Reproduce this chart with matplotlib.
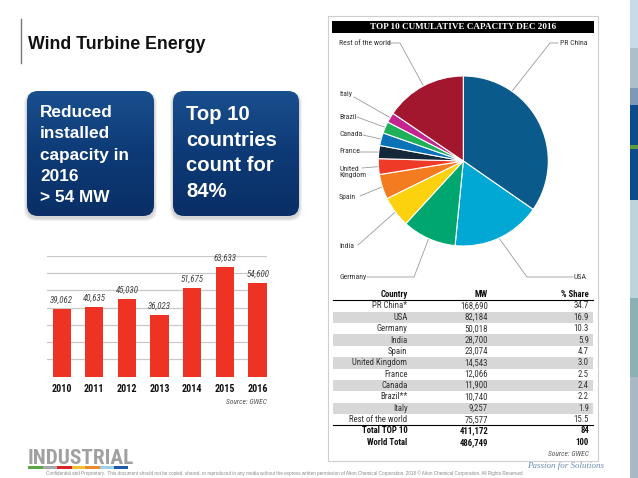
import numpy as np
import matplotlib
matplotlib.use("Agg")
import matplotlib.pyplot as plt
from matplotlib.patches import FancyBboxPatch, Rectangle
from matplotlib.colors import LinearSegmentedColormap

# ---------------- data ----------------
years = ["2010", "2011", "2012", "2013", "2014", "2015", "2016"]
installed_mw = [39062, 40635, 45030, 36023, 51675, 63633, 54600]

pie_countries = ["PR China", "USA", "Germany", "India", "Spain", "United\nKingdom",
                 "France", "Canada", "Brazil", "Italy", "Rest of the world"]
pie_mw = [168690, 82184, 50018, 28700, 23074, 14543, 12066, 11900, 10740, 9257, 75577]
pie_colors = ["#0b5a8c", "#00a8d3", "#00a66f", "#fcd20f", "#f47c20", "#ee3a26",
              "#14283a", "#0a72b8", "#1eb15a", "#c3268e", "#a3172e"]

table_country = ["PR China*", "USA", "Germany", "India", "Spain", "United Kingdom",
                 "France", "Canada", "Brazil**", "Italy", "Rest of the world"]
table_mw = ["168,690", "82,184", "50,018", "28,700", "23,074", "14,543",
            "12,066", "11,900", "10,740", "9,257", "75,577"]
table_share = ["34.7", "16.9", "10.3", "5.9", "4.7", "3.0", "2.5", "2.4", "2.2", "1.9", "15.5"]
total_rows = [("Total TOP 10", "411,172", "84"), ("World Total", "486,749", "100")]

W, H = 638, 478
fig = plt.figure(figsize=(W / 100, H / 100), dpi=100)
fig.patch.set_facecolor("white")

NARROW = ["Roboto Condensed", "Liberation Sans Narrow", "Open Sans Condensed", "Roboto"]
NS = "condensed"
SANS = ["Liberation Sans", "DejaVu Sans"]


def frac(x0, y0, x1, y1):
    return [x0 / W, 1 - y1 / H, (x1 - x0) / W, (y1 - y0) / H]


bg = fig.add_axes([0, 0, 1, 1])
bg.set_xlim(0, W)
bg.set_ylim(H, 0)
bg.axis("off")
bg.set_zorder(0)

# ---------------- right-edge colour strip ----------------
strip = [(0, 48, "#c7dbea"), (48, 88, "#aebfcc"), (88, 105, "#7e99b8"),
         (105, 200, "#0c4c8d"), (200, 298, "#bdd4dc"), (298, 377, "#8cb1b4"),
         (377, 478, "#aab8c6")]
for y0, y1, c in strip:
    bg.add_patch(Rectangle((629.5, y0), 9, y1 - y0, color=c, lw=0))
bg.add_patch(Rectangle((629.5, 145), 9, 4, color="#5c9c3c", lw=0))

# ---------------- title ----------------
bg.plot([21, 21], [19, 63], color="#777777", lw=1.0)
bg.text(28, 48.5, "Wind Turbine Energy", fontsize=12.8, fontweight="bold",
        family=SANS, color="#111111", va="baseline", ha="left")

# ---------------- blue boxes ----------------
cmap = LinearSegmentedColormap.from_list("bx", ["#1a4f8e", "#0d3a76", "#0a2f66"])
grad = np.linspace(0, 1, 200).reshape(-1, 1)


def blue_box(x0, y0, x1, y1):
    for k, a in enumerate([0.06, 0.06, 0.05]):
        sh = FancyBboxPatch((x0 - 1 - k, y0 + 1), x1 - x0 + 2 + 2 * k, y1 - y0 + 2 + k,
                            boxstyle="round,pad=0,rounding_size=12",
                            fc="black", ec="none", alpha=a, zorder=1)
        bg.add_patch(sh)
    p = FancyBboxPatch((x0, y0), x1 - x0, y1 - y0,
                       boxstyle="round,pad=0,rounding_size=11",
                       fc="none", ec="none", zorder=2)
    bg.add_patch(p)
    im = bg.imshow(grad, cmap=cmap, extent=(x0, x1, y1, y0), origin="upper",
                   aspect="auto", zorder=2)
    im.set_clip_path(p)


blue_box(27, 91, 154, 216)
blue_box(173, 91, 299, 216)
bg.set_xlim(0, W)
bg.set_ylim(H, 0)

for s, yb in zip(["Reduced", "installed", "capacity in", "2016", "> 54 MW"],
                 [116.7, 138.3, 159.6, 180.6, 201.8]):
    bg.text(40, yb, s, fontsize=12.4, fontweight="bold", family=SANS,
            color="white", va="baseline", zorder=3)
for s, yb in zip(["Top 10", "countries", "count for", "84%"],
                 [120, 145.6, 171, 196.6]):
    bg.text(186, yb, s, fontsize=14.6, fontweight="bold", family=SANS,
            color="white", va="baseline", zorder=3)

# ---------------- bar chart ----------------
axb = fig.add_axes(frac(47, 256, 266.7, 376.7))
axb.set_zorder(2)
axb.patch.set_alpha(0)
x = np.arange(len(years))
axb.bar(x, installed_mw, width=0.56, color="#ee3224", zorder=3)
axb.set_xlim(-0.45, 6.28)
axb.set_ylim(0, 70000)
for g in range(10000, 70001, 10000):
    axb.axhline(g, color="#c8c8c8", lw=0.9, zorder=1)
for sp in axb.spines.values():
    sp.set_visible(False)
axb.set_yticks([])
axb.set_xticks(x)
axb.set_xticklabels(years, fontsize=7.2, fontweight="bold", family=NARROW,
                    fontstretch=NS, color="#111111")
axb.tick_params(axis="x", length=0, pad=5)
for xi, v in zip(x, installed_mw):
    axb.annotate(f"{v:,}", (xi, v), xytext=(0, 3), textcoords="offset points",
                 ha="center", va="bottom", fontsize=6.4, style="italic",
                 family=NARROW, fontstretch=NS, color="#444444")
bg.text(266.7, 402.5, "Source: GWEC", fontsize=5.4, style="italic", family=NARROW,
        fontstretch=NS, color="#555555", ha="right", va="center")

# ---------------- pie panel ----------------
bg.add_patch(Rectangle((327.5, 15.7), 270.8, 445.3, fc="white", ec="#cfcfcf", lw=0.8, zorder=1))
bg.add_patch(Rectangle((332.3, 20.7), 261.7, 12.6, fc="black", ec="none", zorder=2))
bg.text(463, 27.2, "TOP 10 CUMULATIVE CAPACITY DEC 2016", fontsize=6.6,
        fontweight="bold", family=["Liberation Serif", "DejaVu Serif"], color="white",
        ha="center", va="center", zorder=3)

CX, CY, R = 463.3, 161.0, 85.0
axp = fig.add_axes(frac(CX - R, CY - R, CX + R, CY + R))
axp.set_zorder(2)
axp.pie(pie_mw, colors=pie_colors, startangle=90, counterclock=False, radius=1,
        wedgeprops=dict(edgecolor="white", linewidth=0.8))
axp.set_xlim(-1, 1)
axp.set_ylim(-1, 1)
axp.set_aspect("equal")

total = float(sum(pie_mw))
cum = np.cumsum([0] + pie_mw) / total
# (text x, text y, ha, line start x, line start y, elbow x or None, position in wedge)
label_layout = {
    "PR China": (587, 43, "right", 558, 43, 550, 0.28),
    "USA": (587, 277, "right", 573, 277, 527, 0.5),
    "Germany": (339, 277, "left", 367, 277, 414, 0.5),
    "India": (339, 246, "left", 358, 245, None, 0.5),
    "Spain": (339, 197, "left", 360, 196, None, 0.5),
    "United\nKingdom": (339, 172, "left", 362, 168, None, 0.5),
    "France": (339, 151, "left", 358, 152, None, 0.5),
    "Canada": (339, 134, "left", 363, 135, None, 0.5),
    "Brazil": (339, 117, "left", 357, 117, None, 0.5),
    "Italy": (339, 94, "left", 354, 97, None, 0.5),
    "Rest of the world": (339, 43, "left", 387, 43, 400, 0.5),
}
for i, name in enumerate(pie_countries):
    tx, ty, ha, lx, ly, ex, f = label_layout[name]
    fr = cum[i] + f * (cum[i + 1] - cum[i])
    ang = np.deg2rad(90 - fr * 360)
    px, py = CX + R * np.cos(ang), CY - R * np.sin(ang)
    xs, ys = [lx], [ly]
    if ex is not None:
        xs.append(ex)
        ys.append(ly)
    xs.append(px)
    ys.append(py)
    bg.plot(xs, ys, color="#9a9a9a", lw=0.6, zorder=3)
    bg.text(tx, ty, name, fontsize=5.6, family=NARROW, fontstretch=NS, color="#333333",
            ha=ha, va="center", linespacing=1.0, zorder=3)

# ---------------- table ----------------
row_y = [306 + 11.37 * i for i in range(len(table_country))]
for i, y in enumerate(row_y):
    if i % 2 == 1:
        bg.add_patch(Rectangle((333, y - 5.7), 260, 11.4, fc="#d7d7d7", ec="none", zorder=2))
tfs = 6.3
for xx, t in [(407.5, "Country"), (488, "MW"), (589, "% Share")]:
    bg.text(xx, 294.3, t, fontsize=tfs, fontweight="bold", family=NARROW, fontstretch=NS,
            ha="right", va="center", zorder=3, color="#111111")
bg.plot([333, 593], [300, 300], color="black", lw=0.8, zorder=3)
for y, c, m, s in zip(row_y, table_country, table_mw, table_share):
    for xx, t in [(407.5, c), (488, m), (589, s)]:
        bg.text(xx, y, t, fontsize=tfs, family=NARROW, fontstretch=NS, ha="right",
                va="center", zorder=3, color="#333333")
bg.plot([333, 593], [424.8, 424.8], color="black", lw=0.8, zorder=3)
for y, (c, m, s) in zip([430.8, 442.3], total_rows):
    for xx, t in [(407.5, c), (488, m), (589, s)]:
        bg.text(xx, y, t, fontsize=tfs, fontweight="bold", family=NARROW, fontstretch=NS,
                ha="right", va="center", zorder=3, color="#111111")
bg.text(589, 453.7, "Source: GWEC", fontsize=5.4, style="italic", family=NARROW,
        fontstretch=NS, ha="right", va="center", zorder=3, color="#555555")

# ---------------- footer ----------------
bg.text(27.5, 463.5, "INDUSTRIAL", fontsize=15.3, fontweight="bold", family=NARROW,
        fontstretch=NS, color="#a0a0a0", ha="left", va="baseline", zorder=3)
seg_x = [28.3, 43.3, 56.7, 71.7, 85, 100, 114.3, 128.3]
seg_c = ["#5aa845", "#a8a8a8", "#d9252a", "#f2c12e", "#e98a2b", "#9fd0ea", "#1f5aa8"]
for a, b, c in zip(seg_x[:-1], seg_x[1:], seg_c):
    bg.add_patch(Rectangle((a, 466), b - a, 2.8, fc=c, ec="none", zorder=3))
bg.text(46, 473.5, "Confidential and Proprietary.  This document should not be copied, shared, or "
        "reproduced in any media without the express written permission of Alton Chemical "
        "Corporation. 2018 \u00a9 Alton Chemical Corporation. All Rights Reserved",
        fontsize=3.3, family=SANS, color="#8a8a8a", ha="left", va="center", zorder=4)
bg.text(527, 465.5, "Passion for Solutions", fontsize=6.5, style="italic",
        family=["Liberation Serif", "DejaVu Serif"], color="#6a8db3",
        ha="left", va="center", zorder=4)

fig.savefig("out.png", dpi=100, facecolor="white")
